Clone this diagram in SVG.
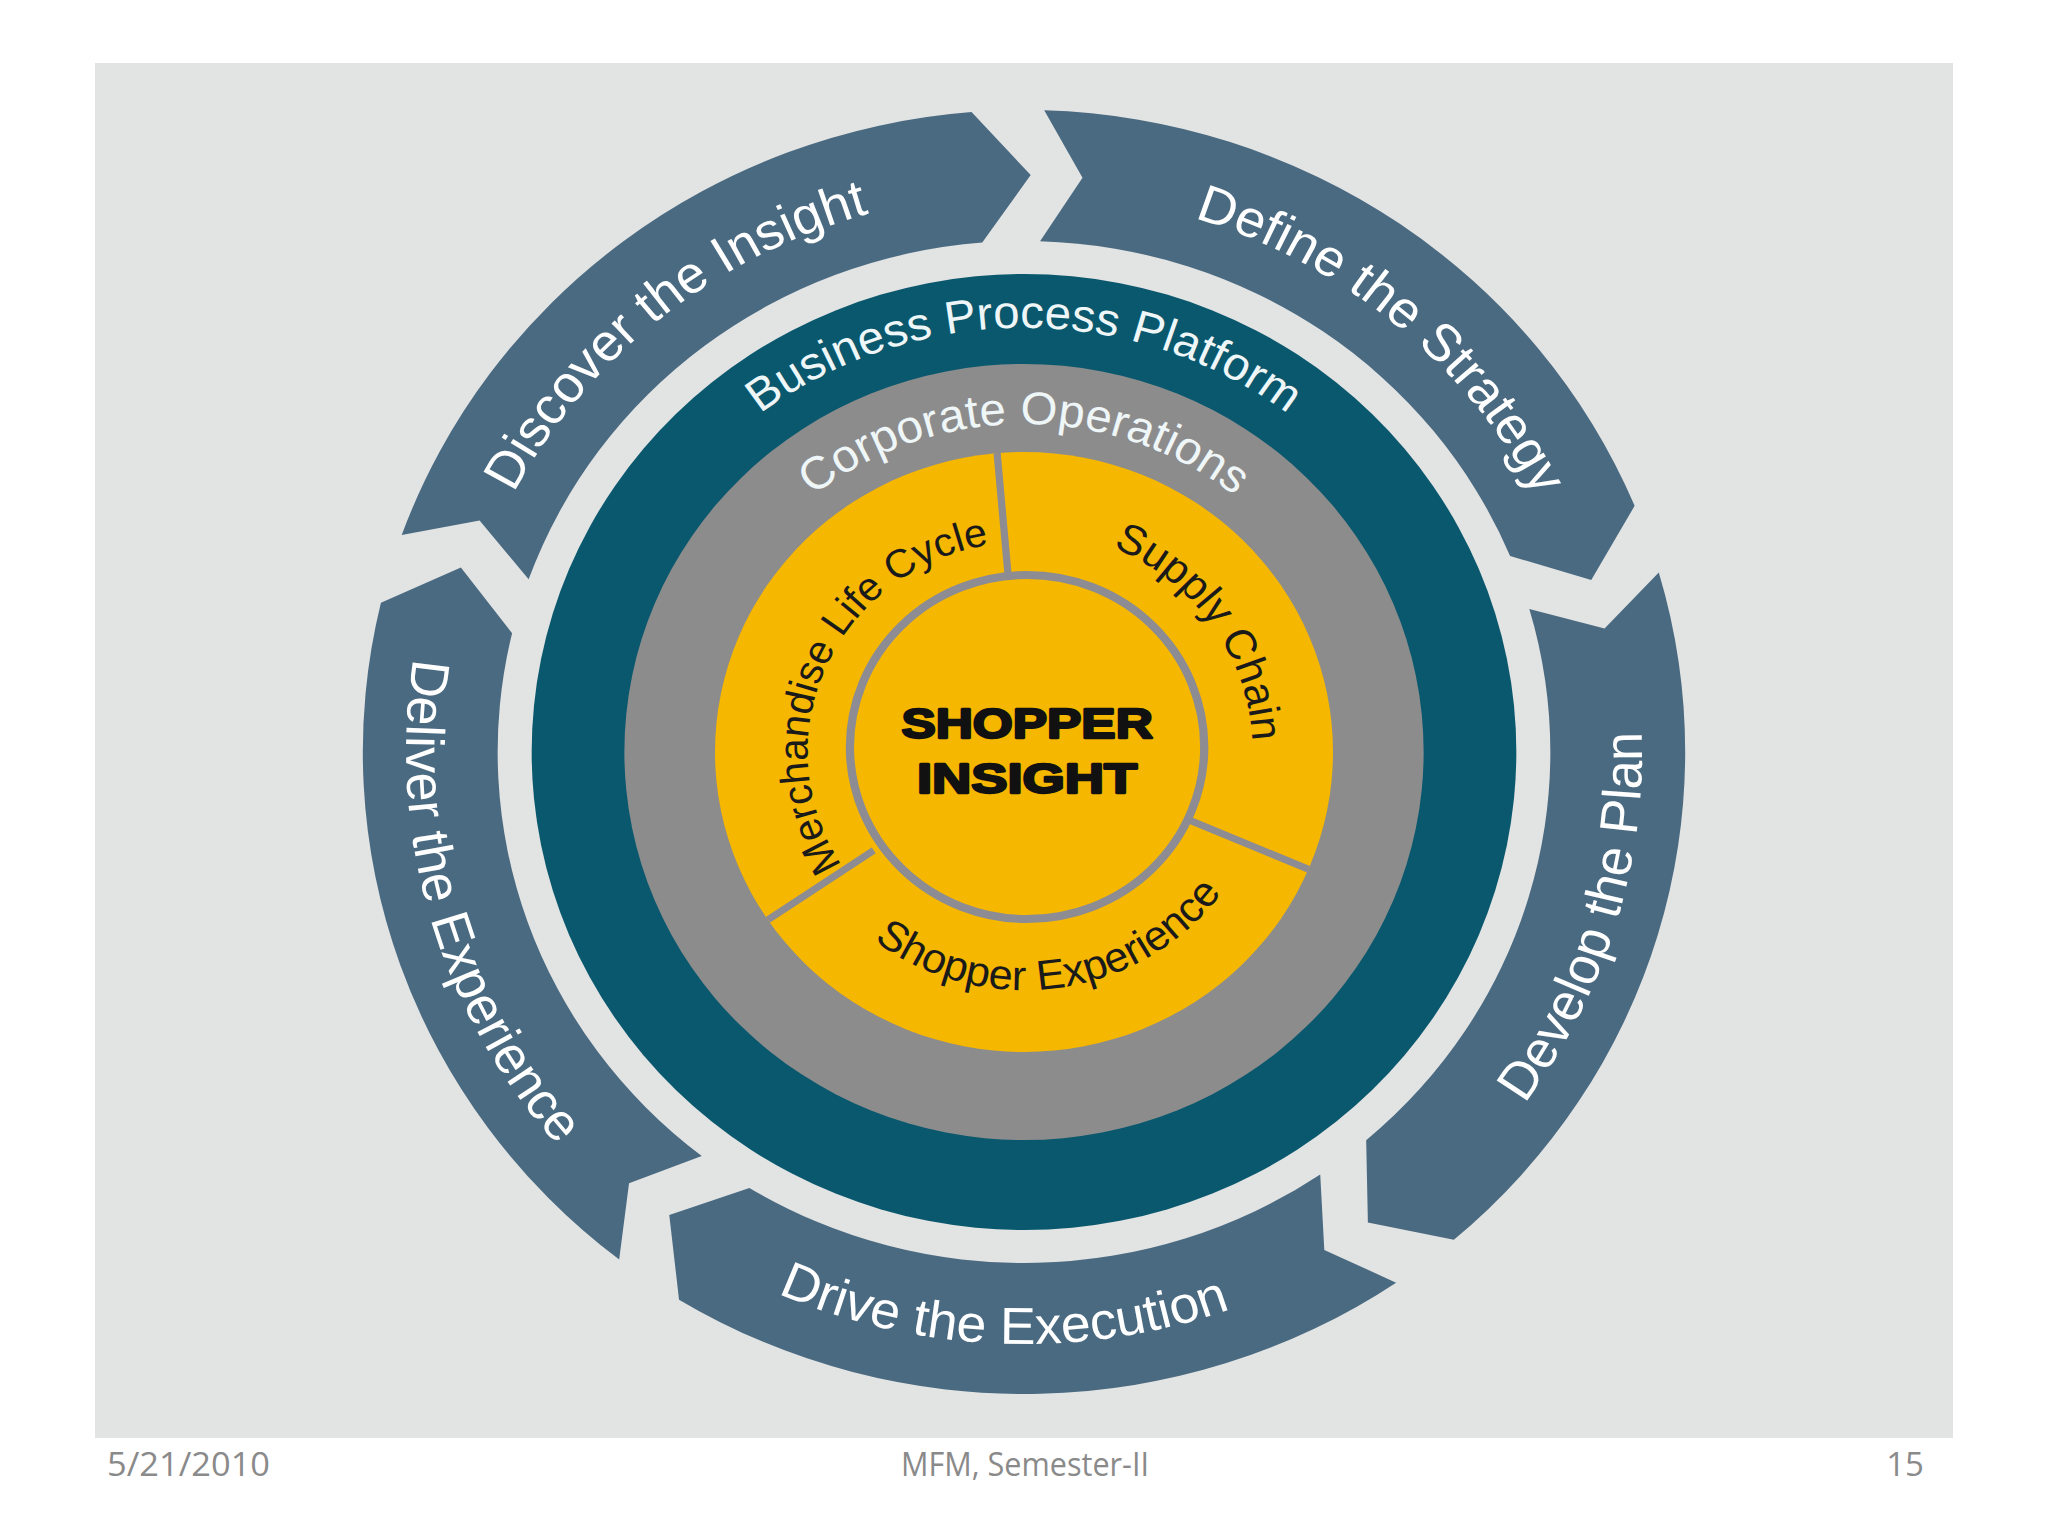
<svg xmlns="http://www.w3.org/2000/svg" width="2048" height="1536" viewBox="0 0 2048 1536">
<defs>
<style>
.band{fill:#4a6a81}
.bt{font-family:"Liberation Sans",Arial,sans-serif;font-size:52px;fill:#ffffff}
.rt{font-family:"Liberation Sans",Arial,sans-serif;font-size:46px;fill:#eef6f8}
.yt{font-family:"Liberation Sans",Arial,sans-serif;font-size:42px;fill:#1a1a1a}
.ct{font-family:"Liberation Sans",Arial,sans-serif;font-size:42px;font-weight:700;fill:#111111;stroke:#111111;stroke-width:2.4;stroke-linejoin:round}
.div{stroke:#8c8c92;stroke-width:7}
.foot{font-family:"Open Sans","Liberation Sans",sans-serif;font-size:33px;fill:#8a8a8a}
</style>
<path id="seg" d="M -348.2 -539.3 A 642 642 0 0 1 348.2 -539.3 L 355.6 -454.4 L 277.2 -429.3 A 511 511 0 0 0 -277.2 -429.3 L -279.3 -504.9 Z"/>
<path id="p-discover" d="M -558.9 -9.8 A 559 559 0 0 1 106.7 -548.7"/>
<path id="p-define" d="M -97.1 -550.5 A 559 559 0 0 1 559 0"/>
<path id="p-develop" d="M 234.4 552.3 A 600 600 0 0 0 503.2 -326.8"/>
<path id="p-drive" d="M -466.5 364.5 A 592 592 0 0 0 439.9 396.1"/>
<path id="p-deliver" d="M -497.4 -335.5 A 600 600 0 0 0 -244.0 548.1"/>
<path id="p-bpp" d="M -417.6 -73.6 A 424 424 0 0 1 417.6 -73.6"/>
<path id="p-corp" d="M -323.0 -57.0 A 328 328 0 0 1 323.0 -57.0"/>
<path id="p-merch" d="M -117.4 174.1 A 210 210 0 0 1 50.8 -203.8"/>
<path id="p-supply" d="M -93.8 -201.2 A 222 222 0 0 1 157.0 157.0"/>
<path id="p-shopper" d="M -226.4 73.5 A 238 238 0 0 0 237.9 8.3"/>
</defs>
<rect x="0" y="0" width="2048" height="1536" fill="#ffffff"/>
<rect x="95" y="63" width="1858" height="1375" fill="#e2e3e3"/>
<g transform="translate(1024 752) scale(1.03 1)">
  <g id="discover">
    <use href="#seg" class="band" transform="rotate(-37.4)"/>
    <text class="bt"><textPath href="#p-discover" startOffset="50%" text-anchor="middle">Discover the Insight</textPath></text>
  </g>
  <g id="define">
    <use href="#seg" class="band" transform="rotate(34.6)"/>
    <text class="bt"><textPath href="#p-define" startOffset="50%" text-anchor="middle">Define the Strategy</textPath></text>
  </g>
  <g id="develop">
    <use href="#seg" class="band" transform="rotate(106.6)"/>
    <text class="bt"><textPath href="#p-develop" startOffset="50%" text-anchor="middle">Develop the Plan</textPath></text>
  </g>
  <g id="drive">
    <use href="#seg" class="band" transform="rotate(178.6)"/>
    <text class="bt"><textPath href="#p-drive" startOffset="50%" text-anchor="middle">Drive the Execution</textPath></text>
  </g>
  <g id="deliver">
    <use href="#seg" class="band" transform="rotate(250.6)"/>
    <text class="bt"><textPath href="#p-deliver" startOffset="50%" text-anchor="middle">Deliver the Experience</textPath></text>
  </g>
  <g id="business-process-platform">
    <circle r="478" fill="#0a586e"/>
    <text class="rt"><textPath href="#p-bpp" startOffset="50%" text-anchor="middle">Business Process Platform</textPath></text>
  </g>
  <g id="corporate-operations">
    <circle r="388" fill="#8d8c8c"/>
    <text class="rt"><textPath href="#p-corp" startOffset="50%" text-anchor="middle">Corporate Operations</textPath></text>
  </g>
  <g id="yellow-sections">
    <circle r="300" fill="#f6b700"/>
    <line class="div" x1="-15.3" y1="-175.3" x2="-26.1" y2="-298.9"/>
    <line class="div" x1="162.0" y1="68.8" x2="276.2" y2="117.2"/>
    <line class="div" x1="-145.9" y1="98.4" x2="-248.7" y2="167.8"/>
    <text class="yt" style="font-size:40px"><textPath href="#p-merch" startOffset="50%" text-anchor="middle">Merchandise Life Cycle</textPath></text>
    <text class="yt"><textPath href="#p-supply" startOffset="50%" text-anchor="middle">Supply Chain</textPath></text>
    <text class="yt"><textPath href="#p-shopper" startOffset="50%" text-anchor="middle">Shopper Experience</textPath></text>
  </g>
  <g id="shopper-insight">
    <circle cx="3" cy="-5" r="172" fill="#f6b700" stroke="#8c8c92" stroke-width="8"/>
    <text class="ct" x="3" y="-14" text-anchor="middle" textLength="244" lengthAdjust="spacingAndGlyphs">SHOPPER</text>
    <text class="ct" x="3" y="41" text-anchor="middle" textLength="214" lengthAdjust="spacingAndGlyphs">INSIGHT</text>
  </g>
</g>
<g id="footer">
  <text class="foot" x="107" y="1476" textLength="163" lengthAdjust="spacingAndGlyphs">5/21/2010</text>
  <text class="foot" x="1025" y="1476" text-anchor="middle" textLength="248" lengthAdjust="spacingAndGlyphs">MFM, Semester-II</text>
  <text class="foot" x="1924" y="1476" text-anchor="end">15</text>
</g>
</svg>
